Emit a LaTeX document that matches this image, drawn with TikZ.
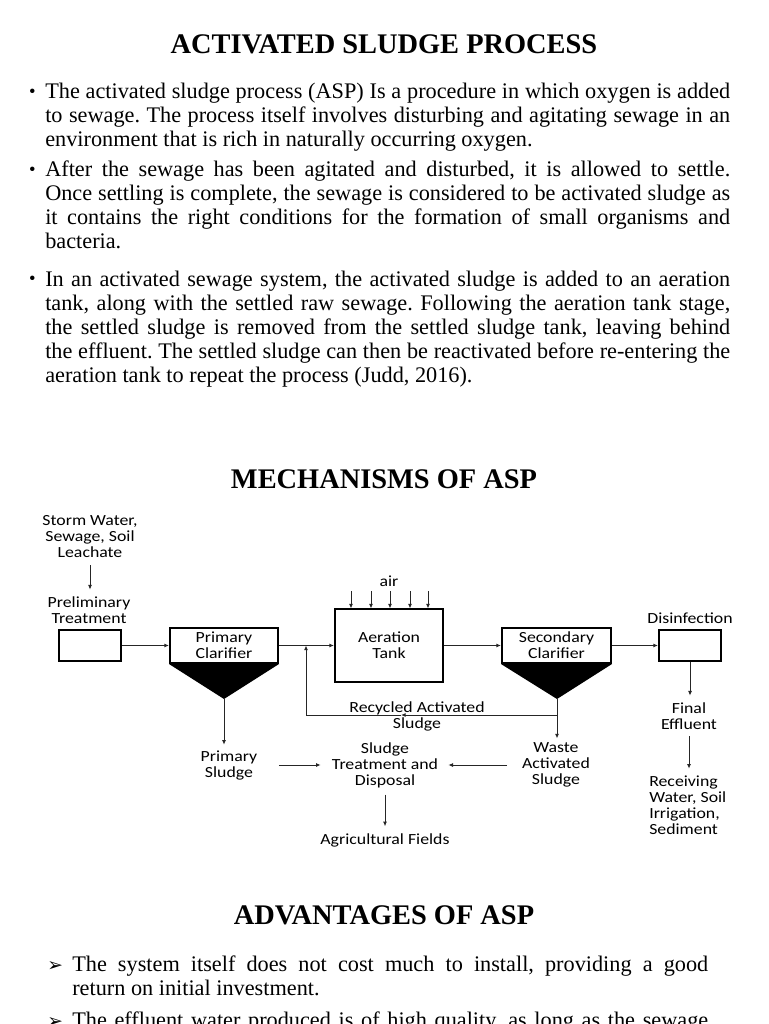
\documentclass[tikz,border=0pt]{standalone}
\usepackage{fontspec}
\setmainfont{Liberation Serif}
\newfontfamily\diagfont[FakeStretch=1.15]{Carlito}
\newfontfamily\symfont{DejaVu Sans}
\usetikzlibrary{arrows.meta}
\newcommand\bodysz{\fontsize{16.7}{18}\selectfont}
\newcommand\titlesz{\fontsize{21.3}{24}\selectfont\bfseries}
\newcommand\diagsz{\diagfont\fontsize{11.6}{12}\selectfont}
\newcommand\jl[2]{\hbox to #1{#2}}
\frenchspacing
\begin{document}
\begin{tikzpicture}[x=0.75pt,y=-0.75pt,
  body/.style={anchor=base west,inner sep=0pt,font=\bodysz},
  ttl/.style={anchor=base,inner sep=0pt,font=\titlesz},
  dlbl/.style={inner sep=0pt,align=center,font=\diagsz},
  box/.style={draw,line width=1.5pt,inner sep=0pt,align=center,font=\diagsz},
  arr/.style={draw=black!85,line width=0.75pt,-{Latex[length=3.5pt,width=3pt]}},
  ln/.style={draw=black!85,line width=0.75pt},
  bul/.style={inner sep=0pt,font=\fontsize{14}{14}\selectfont},
  sym/.style={anchor=base west,inner sep=0pt,font=\symfont\fontsize{14}{14}\selectfont}]
\useasboundingbox (0,0) rectangle (768,1024);
\clip (0,0) rectangle (768,1024);

% ---------- Title ----------
\node[ttl] (t1) at (384,54) {ACTIVATED SLUDGE PROCESS};

% ---------- Bullet 1 ----------
\node[bul] (b1) at (32.5,93) {•};
\node[body] (l11) at (45,98.5) {\jl{513.75pt}{The activated sludge process (ASP) Is a procedure in which oxygen is added}};
\node[body] (l12) at (45,122.5) {\jl{513.75pt}{to sewage. The process itself involves disturbing and agitating sewage in an}};
\node[body] (l13) at (45,146.5) {environment that is rich in naturally occurring oxygen.};

% ---------- Bullet 2 ----------
\node[bul] (b2) at (32.5,171) {•};
\node[body] (l21) at (45,176.5) {\jl{513.75pt}{After the sewage has been agitated and disturbed, it is allowed to settle.}};
\node[body] (l22) at (45,200.5) {\jl{513.75pt}{Once settling is complete, the sewage is considered to be activated sludge as}};
\node[body] (l23) at (45,224.5) {\jl{513.75pt}{it contains the right conditions for the formation of small organisms and}};
\node[body] (l24) at (45,248.5) {bacteria.};

% ---------- Bullet 3 ----------
\node[bul] (b3) at (32.5,280.5) {•};
\node[body] (l31) at (45,286) {\jl{513.75pt}{In an activated sewage system, the activated sludge is added to an aeration}};
\node[body] (l32) at (45,310) {\jl{513.75pt}{tank, along with the settled raw sewage. Following the aeration tank stage,}};
\node[body] (l33) at (45,334) {\jl{513.75pt}{the settled sludge is removed from the settled sludge tank, leaving behind}};
\node[body] (l34) at (45,358) {\jl{513.75pt}{the effluent. The settled sludge can then be reactivated before re-entering the}};
\node[body] (l35) at (45,382) {aeration tank to repeat the process (Judd, 2016).};

% ---------- Mechanisms ----------
\node[ttl] (t2) at (384,488) {MECHANISMS OF ASP};

% labels
\node[dlbl] (storm) at (90,537) {Storm Water,\\Sewage, Soil\\Leachate};
\node[dlbl] (prelimlbl) at (89,610) {Preliminary\\Treatment};
\node[box,minimum width=46.5pt,minimum height=23.25pt] (prelimbox) at (90,645.5) {};
\node[box,minimum width=81pt,minimum height=26.25pt] (pcbox) at (224,645.5) {Primary\\Clarifier};
\node[box,minimum width=81pt,minimum height=54.75pt] (aer) at (389,645.5) {Aeration\\Tank};
\node[dlbl] (air) at (389,581) {air};
\node[box,minimum width=81.75pt,minimum height=26.25pt] (scbox) at (556.5,645.5) {Secondary\\Clarifier};
\node[dlbl] (dislbl) at (690,618) {Disinfection};
\node[box,minimum width=46.5pt,minimum height=23.25pt] (disbox) at (690,645.5) {};

\coordinate (pctip) at (224,699);
\coordinate (sctip) at (557,699);
\fill (pcbox.south west) -- (pcbox.south east) -- (pctip) -- cycle;
\fill (scbox.south west) -- (scbox.south east) -- (sctip) -- cycle;

\node[dlbl] (recyc) at (417,716) {Recycled Activated\\Sludge};
\node[dlbl] (psludge) at (229,765) {Primary\\Sludge};
\node[dlbl] (stp) at (385,765) {Sludge\\Treatment and\\Disposal};
\node[dlbl] (waste) at (556,765) {Waste\\Activated\\Sludge};
\node[dlbl] (final) at (689,716) {Final\\Effluent};
\node[dlbl,align=left,anchor=west] (recv) at (649,805) {Receiving\\Water, Soil\\Irrigation,\\Sediment};
\node[dlbl] (agri) at (385,840) {Agricultural Fields};

% connectors
\draw[arr,shorten <=5pt,shorten >=5pt] (storm.south) -- (storm.south |- prelimlbl.north);
\draw[arr] (prelimbox.east) -- (pcbox.west);
\draw[arr] (pcbox.east) -- (aer.west);
\draw[arr] (aer.east) -- (scbox.west);
\draw[arr] (scbox.east) -- (disbox.west);
\draw[arr,shorten >=5pt] (disbox.south) -- (disbox.south |- final.north);
\draw[arr,shorten <=5pt,shorten >=5pt] (final.south) -- (final.south |- recv.north);
\draw[arr,shorten >=4pt] (pctip) -- (pctip |- psludge.north);
\draw[arr,shorten >=3pt] (sctip) -- (sctip |- waste.north);
\coordinate (recmid) at (401,715);
\coordinate (join) at (306,645.5);
\draw[arr] (sctip |- recmid) -- (recmid);
\draw[arr] (recmid) -| (join);
\draw[arr,shorten <=16pt,shorten >=8.25pt] (psludge.east) -- (stp.west);
\draw[arr,shorten <=11pt,shorten >=7.5pt] (waste.west) -- (stp.east);
\draw[arr,shorten <=5pt,shorten >=5pt] (stp.south) -- (agri.north);
\foreach \x in {351,371,390,410,428}
  \draw[arr] (\x,591) -- (\x,608.5);

% ---------- Advantages ----------
\node[ttl] (t3) at (384,924) {ADVANTAGES OF ASP};
\node[sym] (a1) at (47,971) {➢};
\node[body] (a11) at (72,971) {\jl{477pt}{The system itself does not cost much to install, providing a good}};
\node[body] (a12) at (72,995) {return on initial investment.};
\node[sym] (a2) at (47,1027) {➢};
\node[body] (a21) at (72,1027) {\jl{477pt}{The effluent water produced is of high quality, as long as the sewage}};
\end{tikzpicture}
\end{document}
